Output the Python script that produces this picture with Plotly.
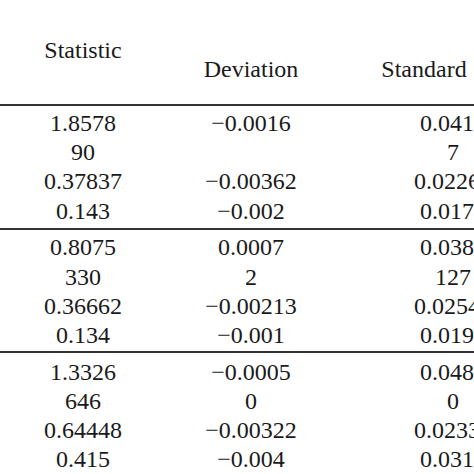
import plotly.graph_objects as go

headers = ["Statistic", "Deviation", "Standard"]
col_statistic = ["1.8578", "90", "0.37837", "0.143",
                 "0.8075", "330", "0.36662", "0.134",
                 "1.3326", "646", "0.64448", "0.415"]
col_deviation = ["\u22120.0016", "", "\u22120.00362", "\u22120.002",
                 "0.0007", "2", "\u22120.00213", "\u22120.001",
                 "\u22120.0005", "0", "\u22120.00322", "\u22120.004"]
col_standard = ["0.0413", "7", "0.02264", "0.0172",
                "0.0381", "127", "0.02546", "0.0193",
                "0.0482", "0", "0.02331", "0.0312"]

W = H = 474
col_x = [83, 251, 453]
header_x = [83, 251, 424]
header_y = [52, 71, 71]
row_top, row_step, sec_gap, rows_per_sec = 125, 29.2, 7.5, 4
sep_lines = [105, 229, 352]

fig = go.Figure()
font = dict(family="Liberation Serif, DejaVu Serif, serif", size=24, color="#1a1a1a")

def ypos(i):
    return row_top + i * row_step + (i // rows_per_sec) * sec_gap

for ci, col in enumerate([col_statistic, col_deviation, col_standard]):
    fig.add_trace(go.Scatter(
        x=[col_x[ci]] * len(col), y=[ypos(i) for i in range(len(col))],
        text=col, mode="text", textposition="middle center",
        textfont=font, hoverinfo="skip", showlegend=False, cliponaxis=True))

fig.add_trace(go.Scatter(x=header_x, y=header_y, text=headers, mode="text",
                         textposition="middle center", textfont=font,
                         hoverinfo="skip", showlegend=False, cliponaxis=True))

for yl in sep_lines:
    fig.add_shape(type="line", x0=0, x1=W, y0=yl, y1=yl,
                  line=dict(color="#333333", width=2), layer="below")

fig.update_layout(
    width=W, height=H, margin=dict(l=0, r=0, t=0, b=0),
    paper_bgcolor="white", plot_bgcolor="white",
    xaxis=dict(range=[0, W], visible=False, fixedrange=True),
    yaxis=dict(range=[H, 0], visible=False, fixedrange=True),
)
fig.write_html("out.html", config={"displayModeBar": False},
               post_script="document.body.style.margin='0';document.body.style.overflow='hidden';")
